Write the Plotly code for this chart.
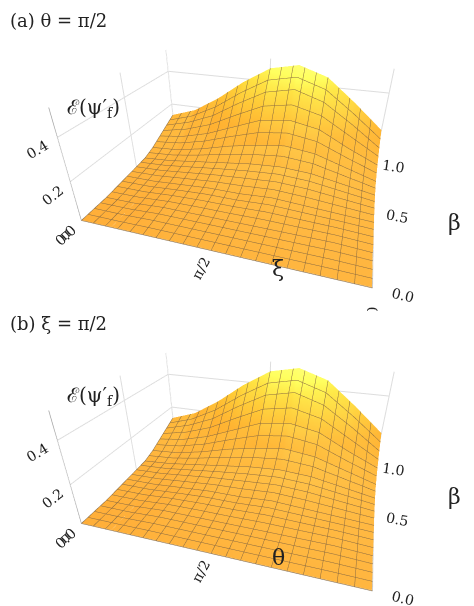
import plotly.graph_objects as go
from math import pi

# grid
xi = [0, pi/8, pi/4, 3*pi/8, pi/2, 5*pi/8, 3*pi/4, 7*pi/8, pi]
beta = [0.0, 0.2, 0.4, 0.6, 0.7, 0.8, 0.9, 1.0]
# rows = beta, cols = xi
ent = [
    [0.00, 0.00, 0.00, 0.00, 0.00, 0.00, 0.00, 0.00, 0.00],
    [0.00, 0.01, 0.01, 0.01, 0.01, 0.01, 0.01, 0.00, 0.00],
    [0.01, 0.02, 0.03, 0.04, 0.03, 0.03, 0.02, 0.01, 0.01],
    [0.03, 0.06, 0.09, 0.10, 0.09, 0.07, 0.05, 0.03, 0.02],
    [0.05, 0.10, 0.15, 0.17, 0.15, 0.12, 0.08, 0.05, 0.04],
    [0.09, 0.16, 0.24, 0.27, 0.25, 0.19, 0.13, 0.09, 0.07],
    [0.14, 0.25, 0.35, 0.40, 0.37, 0.29, 0.20, 0.14, 0.10],
    [0.20, 0.33, 0.45, 0.50, 0.47, 0.38, 0.27, 0.18, 0.13],
]
panels = [("(a) θ = π/2", "ξ"), ("(b) ξ = π/2", "θ")]

# axis runs from π on the left to 0 on the right
u = [pi - v for v in xi]

orange = [[0, "#f08a14"], [0.4, "#f8a422"], [0.8, "#ffd030"], [1, "#fff050"]]
fig = go.Figure()
for i in range(2):
    fig.add_trace(go.Surface(
        x=u, y=beta, z=ent, colorscale=orange, showscale=False,
        lighting=dict(ambient=0.9, diffuse=0.4, specular=0.2, roughness=0.6),
        lightposition=dict(x=100, y=-100, z=1000),
        contours=dict(x=dict(show=True, color="#8a6a40", width=1, start=0, end=pi, size=pi/20),
                      y=dict(show=True, color="#8a6a40", width=1, start=0, end=1, size=0.05)),
        scene="scene" if i == 0 else "scene2"))

ax = dict(showbackground=False, gridcolor="#ddd", linecolor="#999", showspikes=False,
          tickfont=dict(family="DejaVu Serif", size=13, color="#222"), title="")
cam = dict(eye=dict(x=0.55, y=-1.75, z=0.95), center=dict(x=0, y=0, z=-0.12))
for i, name in enumerate(["scene", "scene2"]):
    dom = [0.5, 1.0] if i == 0 else [0.0, 0.5]
    fig.layout[name] = dict(
        domain=dict(x=[0, 1], y=dom), camera=cam, aspectmode="manual",
        aspectratio=dict(x=1.5, y=1.1, z=0.65),
        xaxis=dict(ax, range=[0, pi], tickvals=[0, pi/2, pi], ticktext=["π", "π/2", "0"]),
        yaxis=dict(ax, range=[0, 1], tickvals=[0, 0.5, 1], ticktext=["0.0", "0.5", "1.0"]),
        zaxis=dict(ax, range=[0, 0.52], tickvals=[0, 0.2, 0.4], ticktext=["0.0", "0.2", "0.4"]))

f = dict(family="DejaVu Serif", size=18, color="#222")
for i, (lab, xl) in enumerate(panels):
    y0 = 1 - i*0.5
    fig.add_annotation(text=lab, x=0.0, y=y0, xref="paper", yref="paper",
                       xanchor="left", yanchor="top", showarrow=False, font=f)
    fig.add_annotation(text="ℰ(ψ′<sub>f</sub>)", x=0.12, y=y0-0.14, xref="paper", yref="paper",
                       showarrow=False, font=dict(f, size=20))
    fig.add_annotation(text=xl, x=0.57, y=y0-0.43, xref="paper", yref="paper",
                       showarrow=False, font=dict(f, size=22))
    fig.add_annotation(text="β", x=0.96, y=y0-0.33, xref="paper", yref="paper",
                       showarrow=False, font=dict(f, size=22))

fig.update_layout(width=474, height=606, margin=dict(l=0, r=0, t=0, b=0),
                  paper_bgcolor="white")
fig.write_html("out.html")
